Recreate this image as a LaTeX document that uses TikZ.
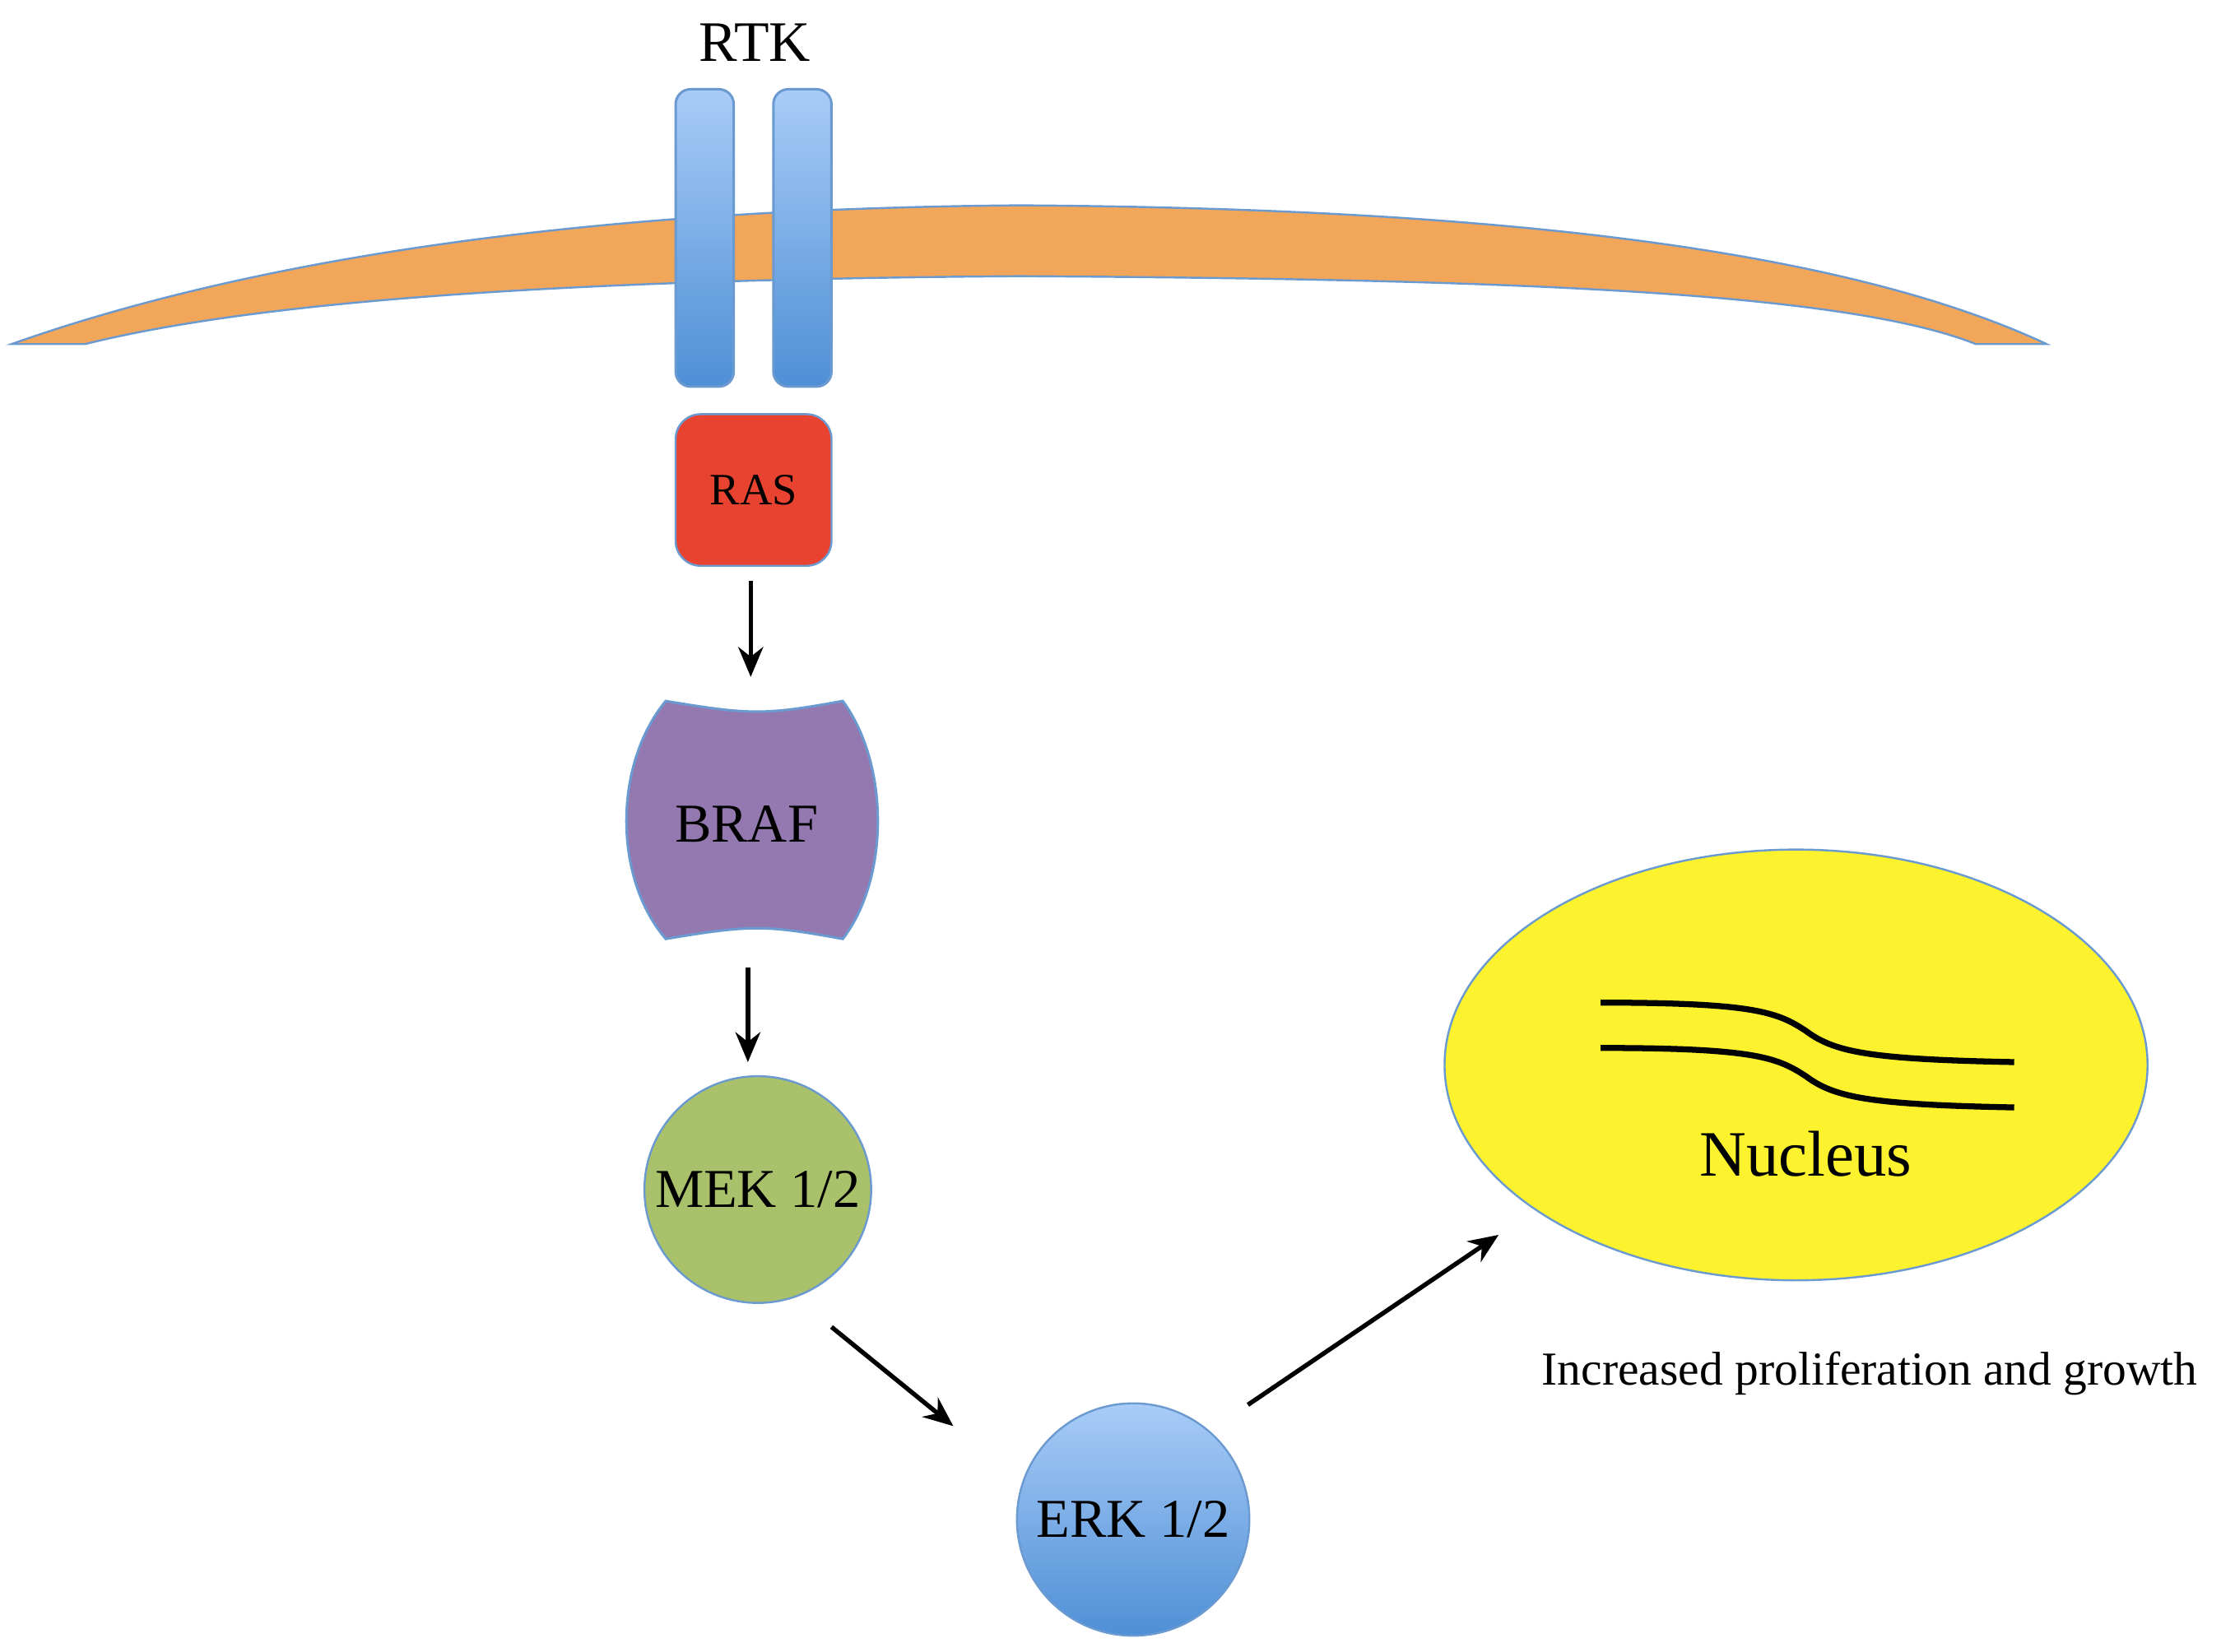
\documentclass[tikz,border=0pt]{standalone}
\usepackage{fontspec}
\setmainfont{Liberation Serif}
\usetikzlibrary{arrows.meta,shapes.geometric}
\definecolor{memb}{HTML}{F2A65A}
\definecolor{bluel}{HTML}{A8CCF7}
\definecolor{blued}{HTML}{4F8FD6}
\definecolor{rasred}{HTML}{E84330}
\definecolor{brafp}{HTML}{9479B0}
\definecolor{mekg}{HTML}{A9C16A}
\definecolor{nucy}{HTML}{FCF22E}
\definecolor{edge}{HTML}{6A9AD0}
\begin{document}
\begin{tikzpicture}[x=0.01cm,y=-0.01cm,
  arr/.style={-{Stealth[length=6pt,width=5pt]},line width=0.9pt},
  rtk/.style={rounded corners=3pt,top color=bluel,bottom color=blued,draw=edge,line width=0.5pt}]
\useasboundingbox (0,0) rectangle (1568,1166);
% membrane
\path[fill=memb,draw=edge,line width=0.4pt] (8,243) .. controls (200,175) and (450,147) .. (720,145) .. controls (1050,147) and (1300,175) .. (1445,243) -- (1395,243) .. controls (1300,205) and (1050,197) .. (720,195) .. controls (450,197) and (200,208) .. (60,243) -- cycle;
% RTK
\path[rtk] (477,63) rectangle (518,273);
\path[rtk] (546,63) rectangle (587,273);
\node[font=\fontsize{11.5}{11.5}\selectfont] (rtk) at (533,30) {RTK};
% RAS
\node[draw=edge,fill=rasred,rounded corners=5pt,minimum width=1.1cm,minimum height=1.07cm,font=\fontsize{9}{9}\selectfont] (ras) at (532,346) {RAS};
% BRAF
\path[fill=brafp,draw=edge,line width=0.5pt] (470,495) .. controls (530,505) and (540,505) .. (595,495) .. controls (628,540) and (628,620) .. (595,663) .. controls (540,653) and (530,653) .. (470,663) .. controls (433,620) and (433,540) .. (470,495) -- cycle;
\node[font=\fontsize{11}{11}\selectfont] (braf) at (527,582) {BRAF};
\coordinate (rasB) at (530,410);
\coordinate (brafT) at (530,478);
\coordinate (brafB) at (528,683);
\coordinate (mekT) at (528,750);
% MEK
\node[circle,draw=edge,fill=mekg,minimum size=1.6cm,inner sep=0pt,font=\fontsize{11}{11}\selectfont] (mek) at (535,840) {MEK 1/2};
% ERK
\node[circle,draw=edge,top color=bluel,bottom color=blued,minimum size=1.64cm,inner sep=0pt,font=\fontsize{11}{11}\selectfont] (erk) at (800,1073) {ERK 1/2};
% Nucleus
\node[ellipse,draw=edge,fill=nucy,minimum width=4.96cm,minimum height=3.04cm] (nuc) at (1268,752) {};
\draw[line width=1.2pt] (1130,708) .. controls (1240,708) and (1255,715) .. (1275,728) .. controls (1295,743) and (1320,748) .. (1422,750);
\draw[line width=1.2pt] (1130,740) .. controls (1240,740) and (1255,747) .. (1275,760) .. controls (1295,775) and (1320,780) .. (1422,782);
\node[font=\fontsize{13}{13}\selectfont] (nl) at (1275,815) {Nucleus};
\node[font=\fontsize{9.5}{9.5}\selectfont] (inc) at (1320,970) {Increased proliferation and growth};
% arrows
\coordinate (m1) at (587,937);
\coordinate (e0) at (673,1007);
\coordinate (e1) at (881,992);
\coordinate (n1) at (1058,872);
\draw[arr] (rasB) -- (brafT);
\draw[arr] (brafB) -- (mekT);
\draw[arr] (m1) -- (e0);
\draw[arr] (e1) -- (n1);
\end{tikzpicture}
\end{document}
